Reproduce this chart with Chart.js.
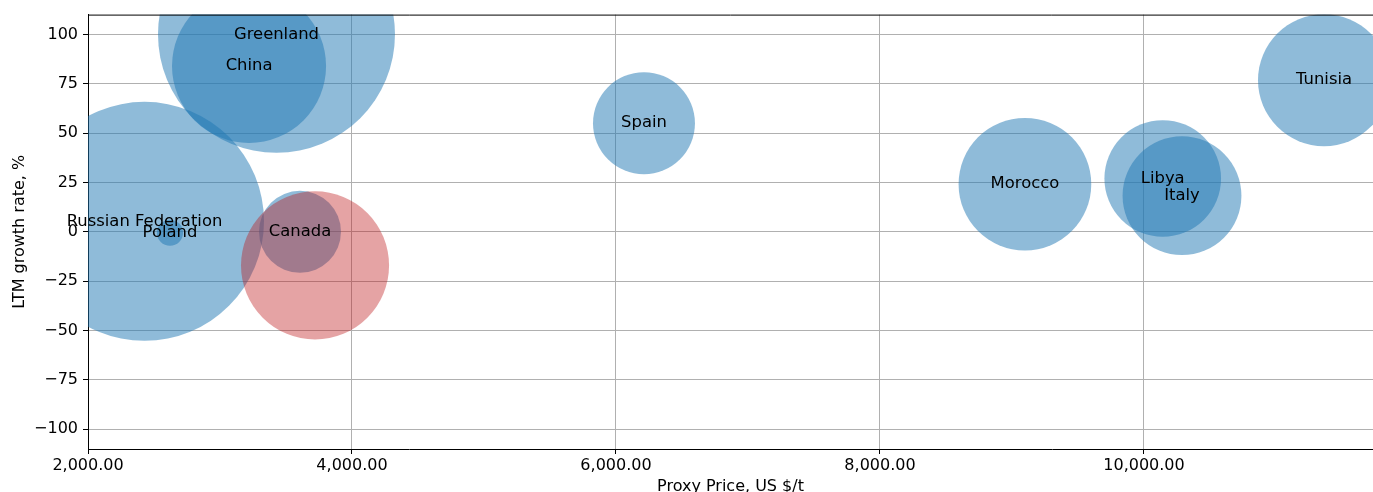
<!DOCTYPE html>
<html>
<head>
<meta charset="utf-8">
<script src="https://cdn.jsdelivr.net/npm/chart.js@4.4.1/dist/chart.umd.min.js"></script>
<style>
  html, body { margin: 0; padding: 0; background: #fff; }
</style>
</head>
<body>
<canvas id="bubbleChart" width="1373" height="492"></canvas>
<script>
// countries shown as labelled blue bubbles
const countries = ['Greenland', 'China', 'Russian Federation', 'Poland', 'Canada', 'Spain', 'Morocco', 'Libya', 'Italy', 'Tunisia']
const proxyPrice = [3428, 3220, 2428, 2621, 3606, 6212, 9098, 10142, 10288, 11364]
const growthRate = [100, 84, 5.3, -0.5, 0, 55, 24.1, 27, 18.3, 76.8]
const tradeShare = [140.4, 59.3, 142.8, 1.7, 16.8, 26, 44, 34, 35.3, 43.6]

// the unlabelled red bubble
const redPrice = [3720]
const redGrowth = [-17]
const redShare = [54.8]

const xTicks = [2000, 4000, 6000, 8000, 10000]
const yTicks = [-100, -75, -50, -25, 0, 25, 50, 75, 100]

const toRadius = (s) => 10 * Math.sqrt(s)

const blueData = countries.map((c, i) => {
    return { x: proxyPrice[i], y: growthRate[i], r: toRadius(tradeShare[i]) }
})
const redData = redPrice.map((p, i) => {
    return { x: p, y: redGrowth[i], r: toRadius(redShare[i]) }
})

Chart.defaults.font.family = '"DejaVu Sans"'
Chart.defaults.font.size = 16
Chart.defaults.color = '#000'

const labelPlugin = {
    id: 'bubbleLabels',
    afterDraw(chart) {
        const ctx = chart.ctx
        const area = chart.chartArea
        // top spine
        ctx.save()
        ctx.strokeStyle = '#000'
        ctx.lineWidth = 1
        ctx.beginPath()
        ctx.moveTo(area.left, area.top + 0.5)
        ctx.lineTo(area.right, area.top + 0.5)
        ctx.stroke()

        const meta = chart.getDatasetMeta(1)
        ctx.font = '16.4px "DejaVu Sans"'
        ctx.fillStyle = '#000'
        ctx.textAlign = 'center'
        ctx.textBaseline = 'middle'
        meta.data.forEach((pt, i) => {
            ctx.fillText(countries[i], pt.x, pt.y)
        })
        ctx.restore()
    }
}

const gridOpts = {
    color: '#b0b0b0',
    lineWidth: 1,
    tickColor: '#000',
    tickLength: 5,
    tickWidth: 1
}

const config = {
    type: 'bubble',
    data: {
        datasets: [{
            label: '',
            data: redData,
            backgroundColor: 'rgba(190, 25, 28, 0.4)',
            borderWidth: 0,
            clip: 0,
            order: 0
        }, {
            label: 'Countries',
            data: blueData,
            backgroundColor: 'rgba(31, 119, 180, 0.5)',
            borderWidth: 0,
            clip: 0,
            order: 1
        }]
    },
    options: {
        responsive: false,
        animation: false,
        events: [],
        layout: { autoPadding: false, padding: { top: 14, right: 0, bottom: 0, left: 0 } },
        plugins: {
            legend: { display: false },
            tooltip: { enabled: false }
        },
        scales: {
            x: {
                type: 'linear',
                min: 2000,
                max: 11735,
                z: 1,
                grid: gridOpts,
                border: { display: true, color: '#000', width: 1 },
                afterBuildTicks: (scale) => {
                    scale.ticks = xTicks.map((v) => ({ value: v }))
                },
                afterFit: (scale) => { scale.height = 43 },
                ticks: {
                    padding: 2,
                    maxRotation: 0,
                    callback: (value) => value.toLocaleString('en-US', { minimumFractionDigits: 2, maximumFractionDigits: 2 })
                },
                title: {
                    display: true,
                    text: 'Proxy Price, US $/t',
                    padding: { top: 0, bottom: -4 }
                }
            },
            y: {
                type: 'linear',
                min: -110,
                max: 110,
                z: 1,
                grid: gridOpts,
                border: { display: true, color: '#000', width: 1 },
                afterBuildTicks: (scale) => {
                    scale.ticks = yTicks.map((v) => ({ value: v }))
                },
                afterFit: (scale) => { scale.width = 88 },
                ticks: {
                    padding: 5,
                    callback: (value) => String(value).replace('-', '\u2212')
                },
                title: {
                    display: true,
                    text: 'LTM growth rate, %',
                    padding: { top: 10, bottom: 0 }
                }
            }
        }
    },
    plugins: [labelPlugin]
}

const myBubbleChart = new Chart(document.getElementById('bubbleChart'), config)
</script>
</body>
</html>
